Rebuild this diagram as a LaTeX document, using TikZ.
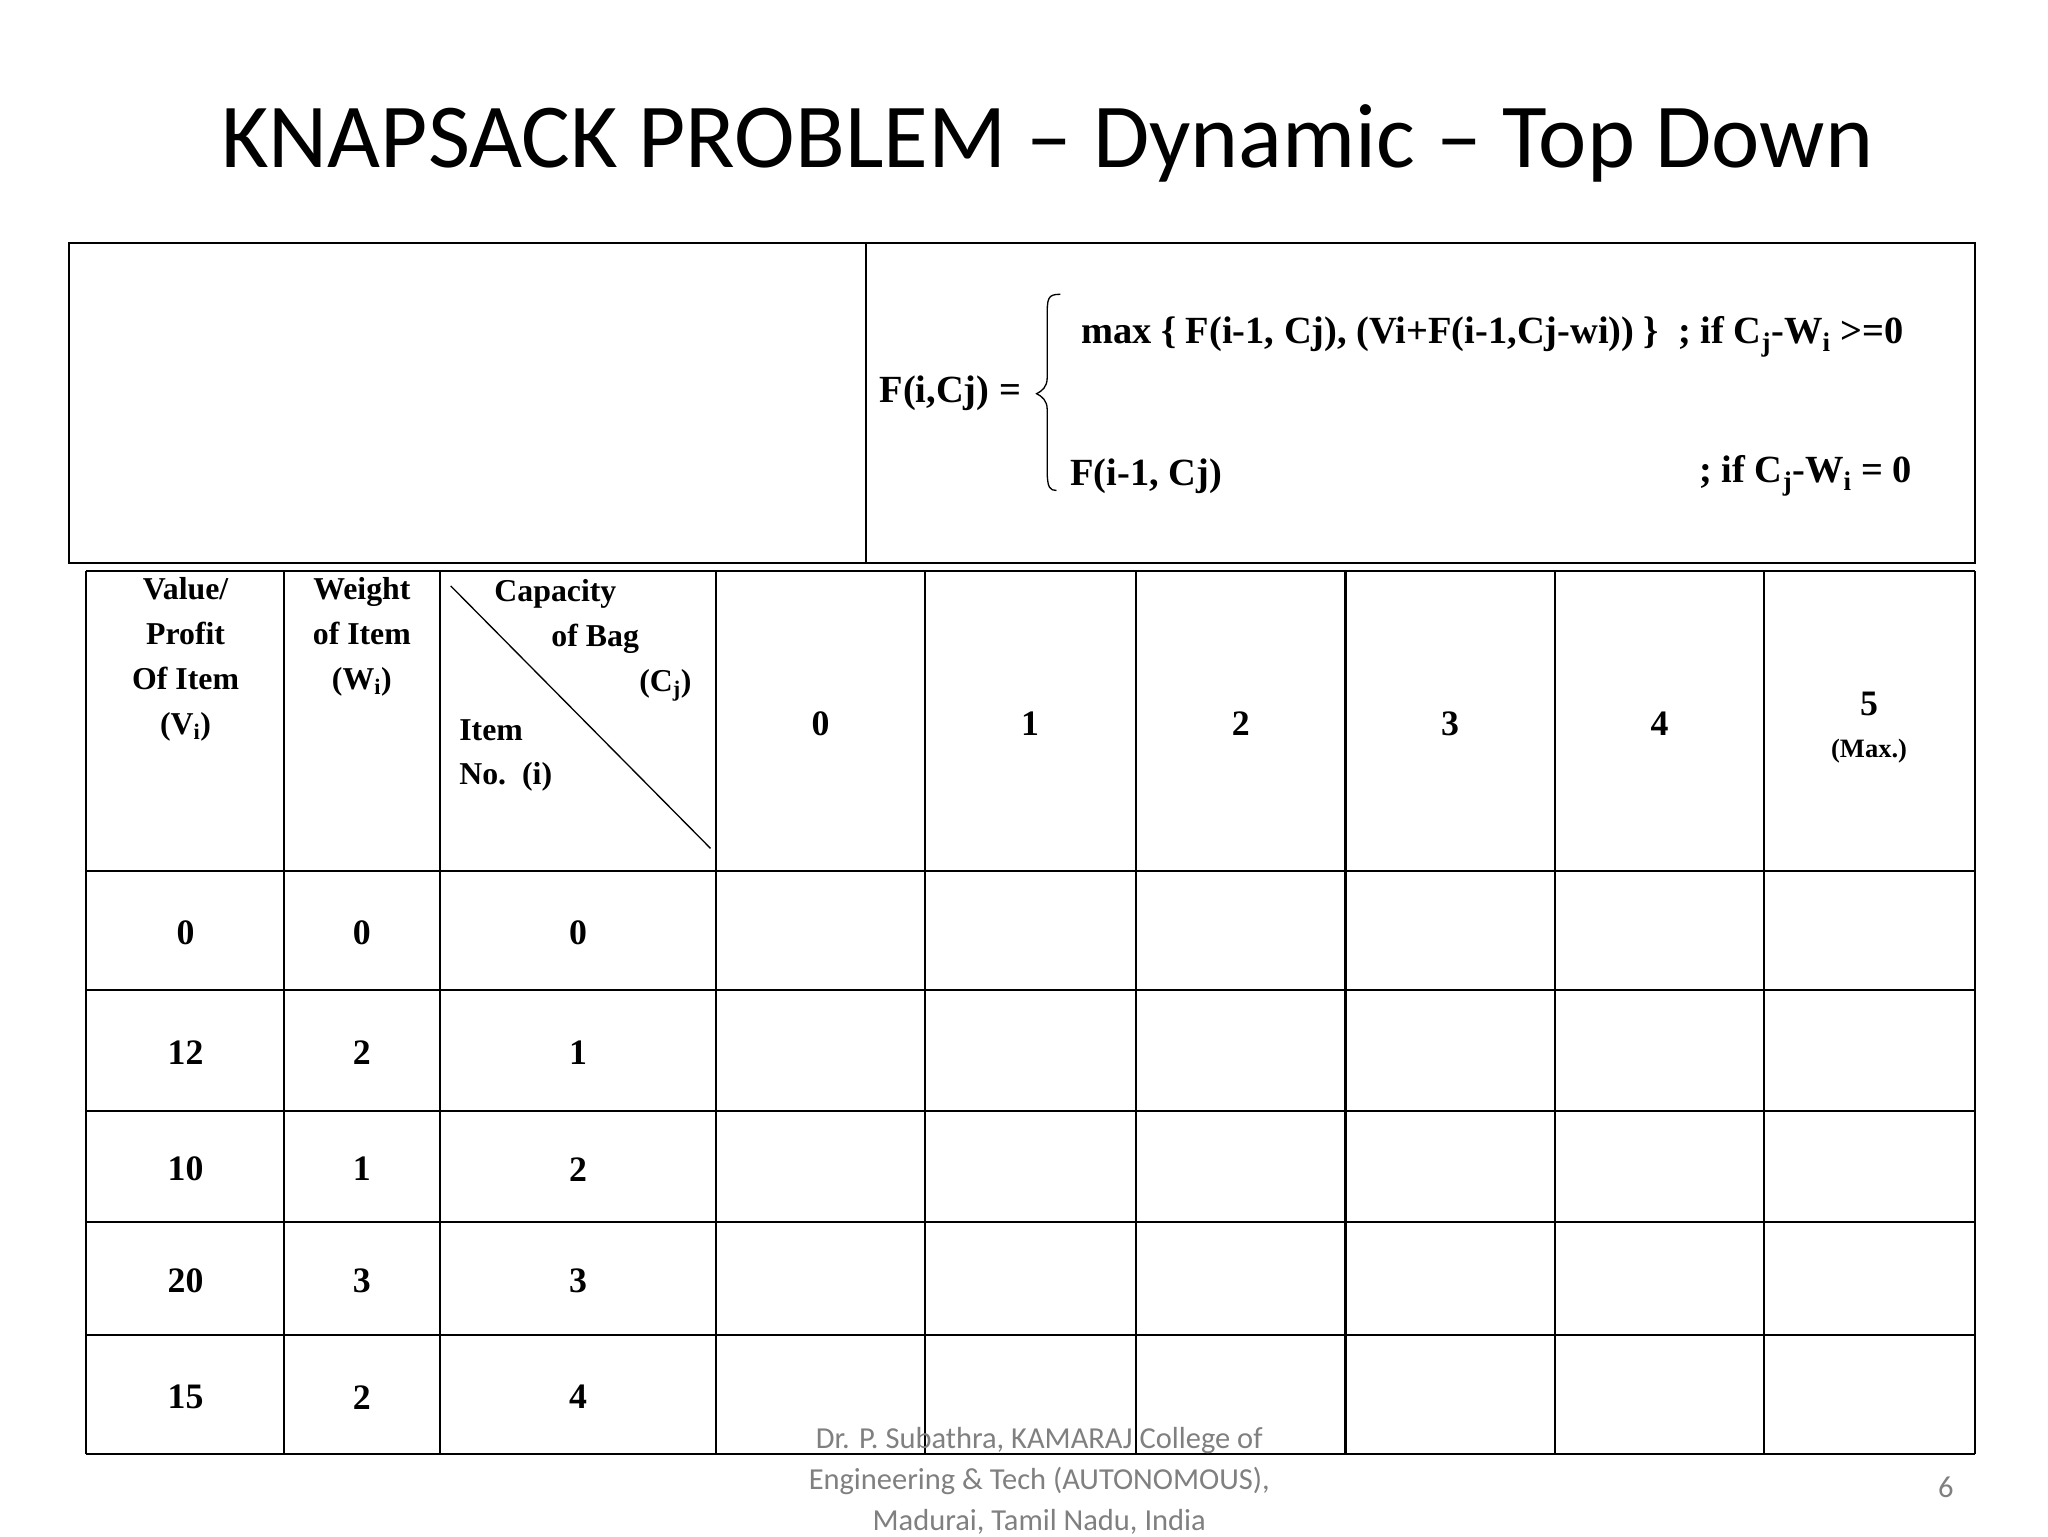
\documentclass[tikz,border=0pt]{standalone}
\usepackage{fontspec}
\setmainfont{Liberation Serif}
\newfontfamily\calfont{Carlito}
\begin{document}
\begin{tikzpicture}[x=1pt,y=-1pt,
  cell/.style={font=\fontsize{24}{34}\selectfont\bfseries,align=center},
  num/.style={font=\fontsize{27}{34}\selectfont\bfseries},
  fm/.style={font=\fontsize{29}{34}\selectfont\bfseries},
  ln/.style={line width=1.6pt}]
\useasboundingbox (0,0) rectangle (1545,1159);
\node[font=\calfont\fontsize{69}{76}\selectfont] (title) at (790,108) {KNAPSACK PROBLEM – Dynamic – Top Down};
% top box
\draw[ln] (52,183) rectangle (1490,425);
\draw[ln] (653,183) -- (653,425);
\node[fm,anchor=west] (f) at (660,297) {F(i,Cj) =};
\draw[line width=1pt] (800,222) .. controls (790,222) and (790,225) .. (790,240) -- (790,285) .. controls (790,292) and (786,295) .. (782,297) .. controls (786,299) and (790,302) .. (790,309) -- (790,355) .. controls (790,368) and (792,370) .. (797,370);
\node[fm,anchor=west] (m) at (812,254) {max \{ F(i-1, Cj), (Vi+F(i-1,Cj-wi)) \}\ \ ; if C\textsubscript{j}-W\textsubscript{i} >=0};
\node[fm,anchor=west] (m2) at (804,359) {F(i-1, Cj)};
\node[fm,anchor=east] (m3) at (1446,359) {; if C\textsubscript{j}-W\textsubscript{i} = 0};
% table grid
\foreach \x in {65,214,332,540,698,857,1015,1173,1331,1490} \draw[ln] (\x,431) -- (\x,1097);
\foreach \y in {431,657,747,838,922,1007,1097} \draw[ln] (65,\y) -- (1490,\y);
\draw[line width=1pt] (340,442) -- (536,640);
\node[cell,anchor=north] (h1) at (140,432) {Value/\\Profit\\Of Item\\(V\textsubscript{i})};
\node[cell,anchor=north] (h2) at (273,432) {Weight\\of Item\\(W\textsubscript{i})};
\node[cell] (h3) at (419,448) {Capacity};
\node[cell] (h3b) at (449,482) {of Bag};
\node[cell] (h3c) at (502,517) {(C\textsubscript{j})};
\node[cell,anchor=west] (h3d) at (343,551) {Item};
\node[cell,anchor=west] (h3e) at (343,586) {No.\ \ (i)};
\foreach \c/\x in {0/619,1/777,2/936,3/1094,4/1252} \node[num] (c\c) at (\x,546) {\c};
\node[num] (c5) at (1410,531) {5};
\node[font=\fontsize{20}{22}\selectfont\bfseries] (c5b) at (1410,567) {(Max.)};
\foreach \v/\w/\i/\y in {0/0/0/704,12/2/1/794,10/1/2/882,20/3/3/966,15/2/4/1054} {
  \node[num] (v\i) at (140,\y) {\v};
  \node[num] (w\i) at (273,\y) {\w};
  \node[num] (n\i) at (436,\y) {\i};
}
\node[font=\calfont\fontsize{23}{31}\selectfont,text=gray,align=center] (foot) at (784,1117) {Dr. P. Subathra, KAMARAJ College of\\Engineering \& Tech (AUTONOMOUS),\\Madurai, Tamil Nadu, India};
\node[font=\calfont\fontsize{23}{26}\selectfont,text=gray] (pg) at (1468,1122) {6};
\end{tikzpicture}
\end{document}
